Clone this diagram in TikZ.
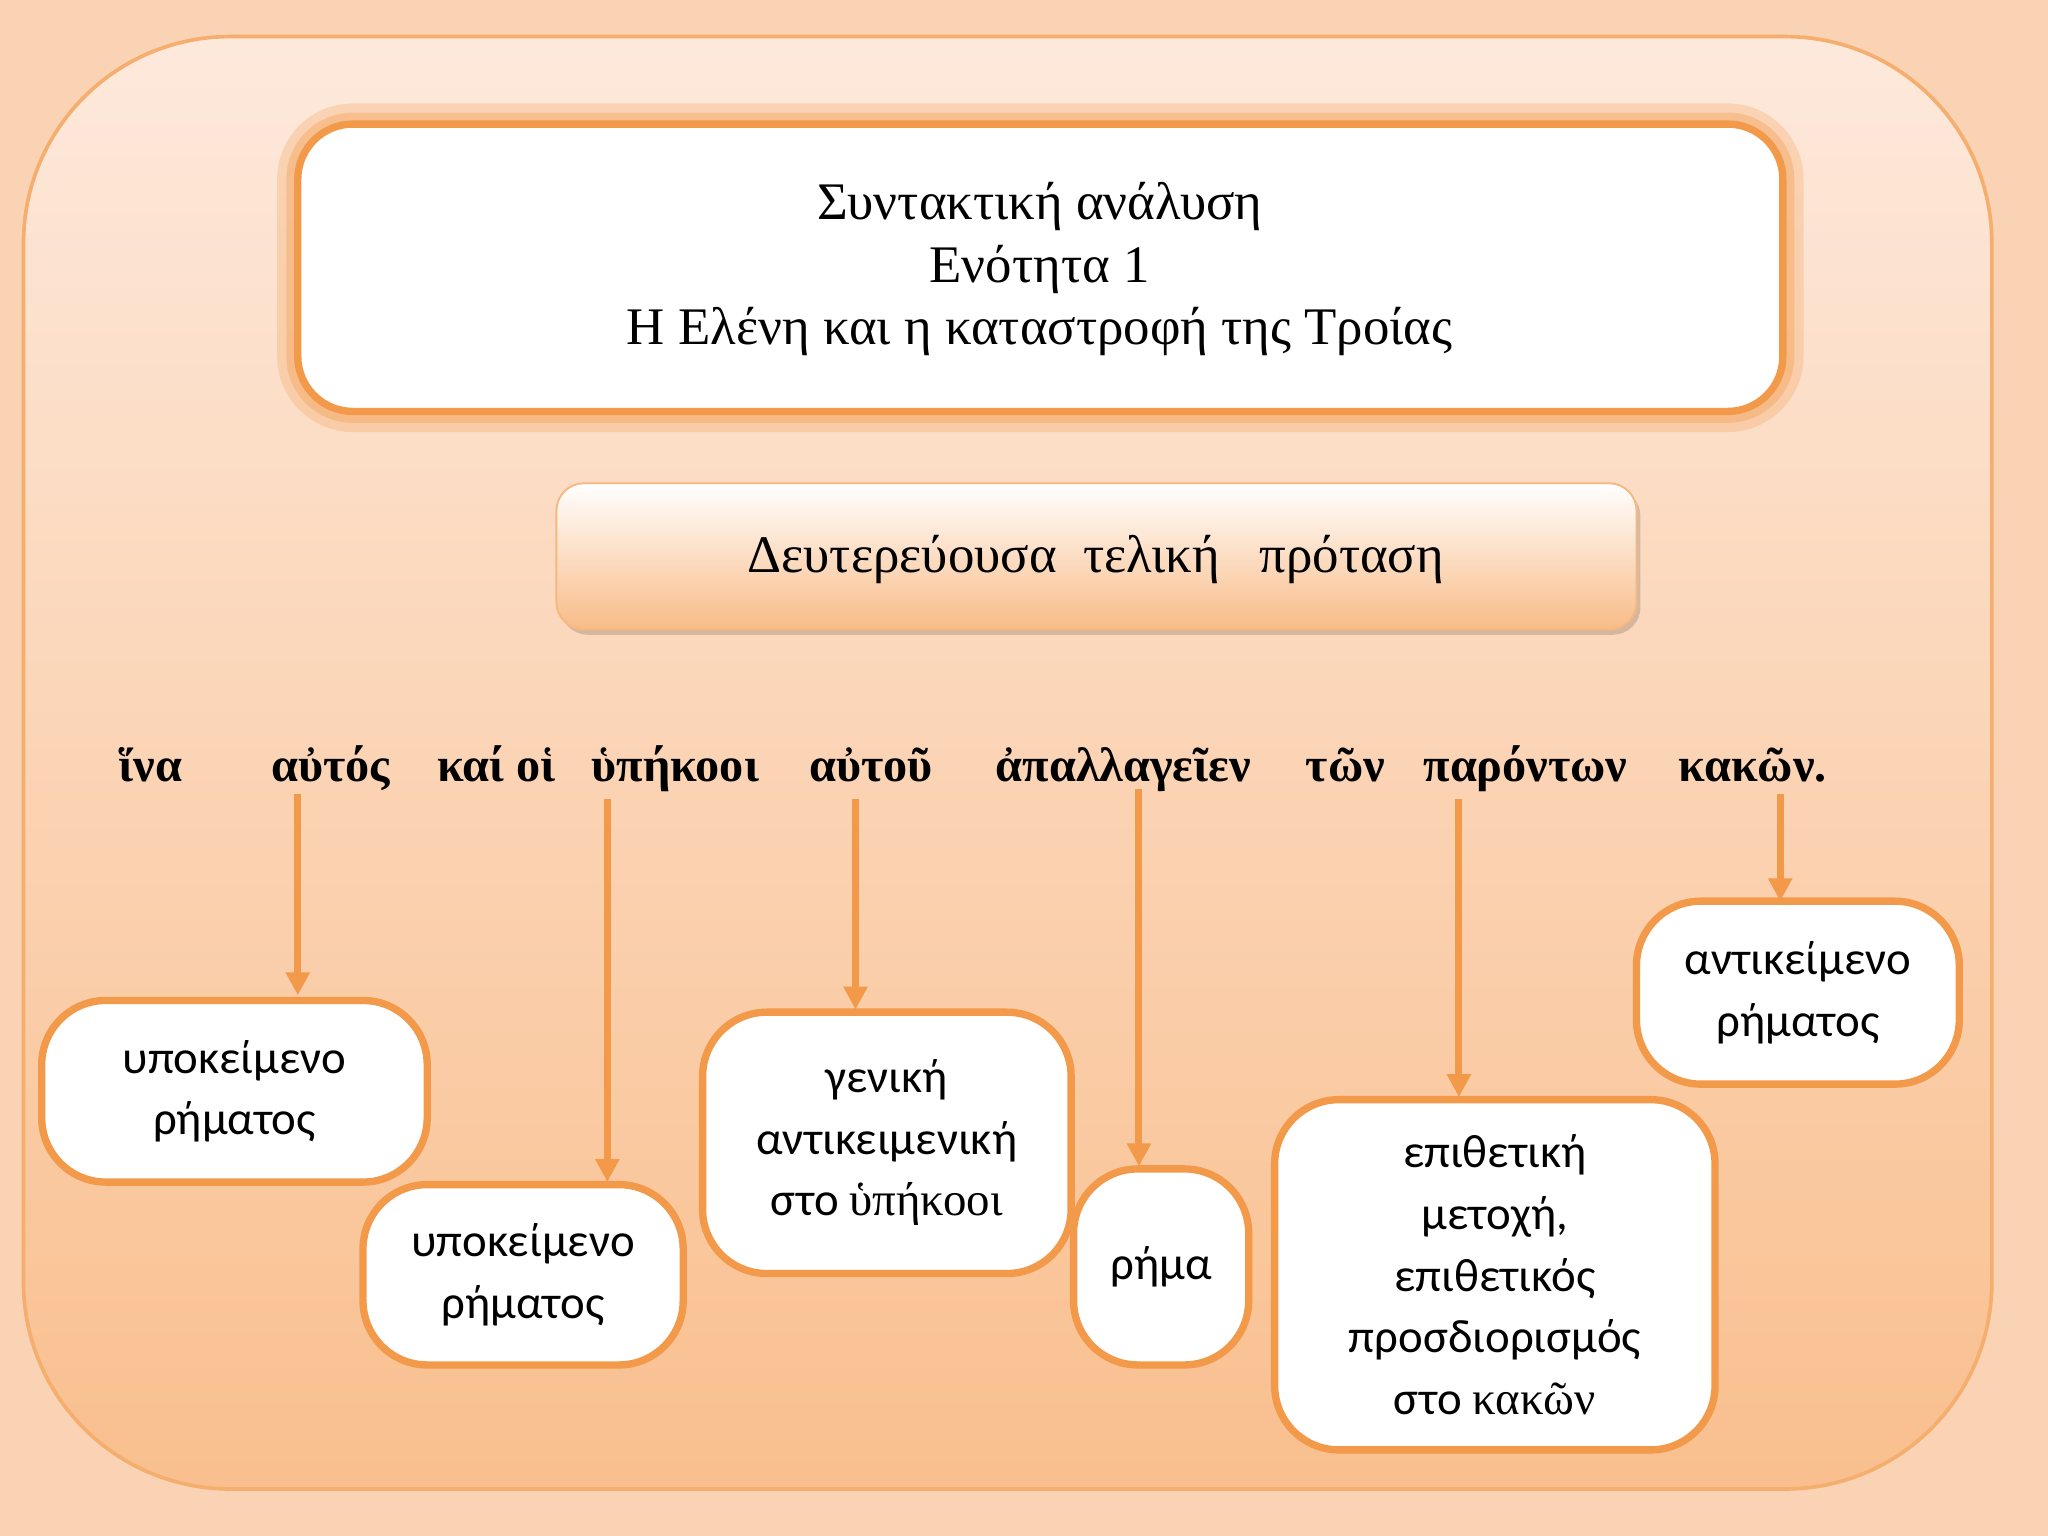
\documentclass[tikz,border=0pt]{standalone}
\usepackage{fontspec}
\setmainfont{Liberation Serif}
\newfontfamily\boxfont{Carlito}
\usetikzlibrary{arrows.meta}
\definecolor{peach}{HTML}{FAD3B5}
\definecolor{edge}{HTML}{F29A4A}
\definecolor{lightp}{HTML}{FDE9DC}
\definecolor{deepp}{HTML}{F9BF8E}
\tikzset{
  wbox/.style={draw=edge, line width=1.6pt, fill=white, rounded corners=14pt, align=center, font=\boxfont\fontsize{10.2}{13.4}\selectfont},
  word/.style={font=\bfseries\fontsize{10.5}{12}\selectfont, anchor=base},
  arr/.style={draw=edge, line width=1.5pt, -{Triangle[length=5pt,width=5pt]}}
}
\begin{document}
\begin{tikzpicture}[x=0.01cm,y=-0.01cm]
\useasboundingbox (0,0) rectangle (1568,1176);
\fill[peach] (0,0) rectangle (1568,1176);
\shade[top color=lightp, bottom color=deepp, rounded corners=45pt] (18,28) rectangle (1525,1140);
\draw[edge!80, line width=0.8pt, rounded corners=45pt] (18,28) rectangle (1525,1140);
% title
\draw[edge, opacity=0.25, line width=9pt, rounded corners=12pt] (228,95) rectangle (1365,315);
\draw[edge, opacity=0.35, line width=5pt, rounded corners=12pt] (228,95) rectangle (1365,315);
\draw[wbox, rounded corners=12pt] (228,95) rectangle (1365,315);
\node[font=\fontsize{11.5}{13.6}\selectfont, align=center] (title) at (796,206) {Συντακτική ανάλυση\\Ενότητα 1\\Η Ελένη και η καταστροφή της Τροίας};
% subtitle
\fill[black, opacity=0.15, rounded corners=6pt] (429,374) rectangle (1256,486);
\shade[top color=white, bottom color=deepp!90!edge, rounded corners=6pt, draw=edge!70] (426,370) rectangle (1253,482);
\node[font=\fontsize{11.5}{13}\selectfont] (sub) at (839,428) {Δευτερεύουσα \ τελική \ \ πρόταση};
% words
\node[word] (w1) at (115,598) {ἵνα};
\node[word] (w2) at (253,598) {αὐτός};
\node[word] (w3) at (380,598) {καί οἱ};
\node[word] (w4) at (517,598) {ὑπήκοοι};
\node[word] (w5) at (667,598) {αὐτοῦ};
\node[word] (w6) at (860,598) {ἀπαλλαγεῖεν};
\node[word] (w7) at (1030,598) {τῶν};
\node[word] (w8) at (1168,598) {παρόντων};
\node[word] (w9) at (1342,598) {κακῶν.};
% boxes
\node[wbox, minimum width=2.95cm, minimum height=1.39cm] (b1) at (179.5,835.5) {υποκείμενο\\ρήματος};
\node[wbox, minimum width=2.45cm, minimum height=1.38cm] (b2) at (400.5,976) {υποκείμενο\\ρήματος};
\node[wbox, minimum width=2.82cm, minimum height=2.0cm] (b3) at (679,875) {γενική\\αντικειμενική\\στο {\rmfamily ὑπήκοοι}};
\node[wbox, minimum width=1.34cm, minimum height=1.5cm] (b4) at (889,970) {ρήμα};
\node[wbox, minimum width=3.37cm, minimum height=2.68cm] (b5) at (1144.5,976) {επιθετική\\μετοχή,\\επιθετικός\\προσδιορισμός\\στο {\rmfamily κακῶν}};
\node[wbox, minimum width=2.47cm, minimum height=1.4cm] (b6) at (1376.5,760) {αντικείμενο\\ρήματος};
% arrows
\foreach \n/\x/\ya/\yb in {1/228/608/762, 2/465/612/905, 3/655/612/773, 4/872/604/893, 5/1117/612/840, 6/1363/608/690}
{ \coordinate (s\n) at (\x,\ya);
  \coordinate (e\n) at (\x,\yb);
  \draw[arr] (s\n) -- (e\n);
}
\end{tikzpicture}
\end{document}
